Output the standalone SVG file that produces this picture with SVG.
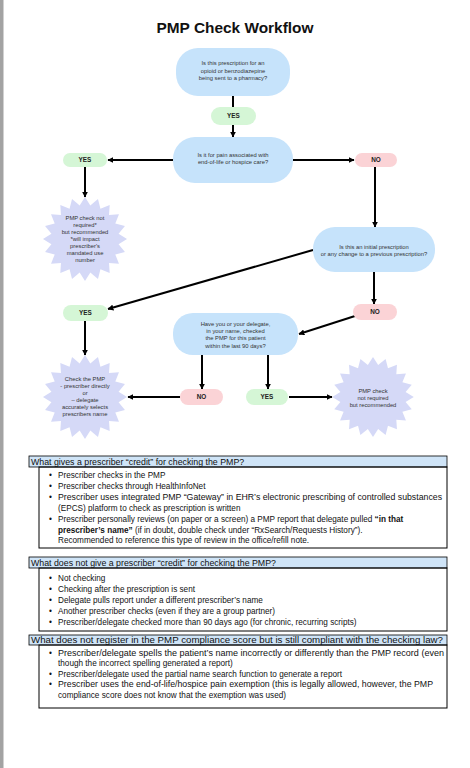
<svg xmlns="http://www.w3.org/2000/svg" width="470" height="768" viewBox="0 0 470 768">
<style>
.q{fill:#c6e3fb}
.yes{fill:#d5f6d6}
.no{fill:#fbd3d6}
.burst{fill:#d5d9f7}
.t{font-family:"Liberation Sans",Arial,sans-serif;font-size:5.8px;fill:#333;text-anchor:middle}
.p{font-family:"Liberation Sans",Arial,sans-serif;font-size:6.4px;font-weight:bold;fill:#222;text-anchor:middle}
.c line{stroke:#000;stroke-width:2;fill:none}
.hd{fill:#cfe4f7;stroke:#000;stroke-width:0.8}
.bd{fill:none;stroke:#000;stroke-width:1}
.tx{font-family:"Liberation Sans",Arial,sans-serif;font-size:8.2px;fill:#111}
.th{font-family:"Liberation Sans",Arial,sans-serif;font-size:8.8px;fill:#111}
</style>
<defs>
<marker id="ah" viewBox="0 0 10 10" refX="9" refY="5" markerWidth="6" markerHeight="6" markerUnits="userSpaceOnUse" orient="auto">
<path d="M0,0 L10,5 L0,10 z" fill="#000"/>
</marker>
<path id="star" d="M0,-42 L5.32,-33.58 L12.98,-39.94 L15.44,-30.29 L24.69,-33.98 L24.04,-24.04 L33.98,-24.69 L30.29,-15.44 L39.94,-12.98 L33.58,-5.32 L42,0 L33.58,5.32 L39.94,12.98 L30.29,15.44 L33.98,24.69 L24.04,24.04 L24.69,33.98 L15.44,30.29 L12.98,39.94 L5.32,33.58 L0,42 L-5.32,33.58 L-12.98,39.94 L-15.44,30.29 L-24.69,33.98 L-24.04,24.04 L-33.98,24.69 L-30.29,15.44 L-39.94,12.98 L-33.58,5.32 L-42,0 L-33.58,-5.32 L-39.94,-12.98 L-30.29,-15.44 L-33.98,-24.69 L-24.04,-24.04 L-24.69,-33.98 L-15.44,-30.29 L-12.98,-39.94 L-5.32,-33.58 z"/>
</defs>
<rect x="0" y="0" width="470" height="768" fill="#fff"/>
<rect x="0" y="0" width="3.5" height="768" fill="#a3a3a3"/>

<text x="235" y="33" font-family="Liberation Sans,Arial,sans-serif" font-size="15" font-weight="bold" text-anchor="middle" fill="#111" textLength="157" lengthAdjust="spacingAndGlyphs">PMP Check Workflow</text>

<g class="c">
<line x1="233" y1="96" x2="233" y2="107"/>
<line x1="233" y1="125" x2="233" y2="137" marker-end="url(#ah)"/>
<line x1="173" y1="160" x2="108" y2="160" marker-end="url(#ah)"/>
<line x1="293" y1="160" x2="354" y2="160" marker-end="url(#ah)"/>
<line x1="85" y1="167" x2="85" y2="197" marker-end="url(#ah)"/>
<line x1="375" y1="167" x2="375" y2="227" marker-end="url(#ah)"/>
<line x1="374" y1="272" x2="374" y2="304" marker-end="url(#ah)"/>
<line x1="313" y1="250" x2="108" y2="309" marker-end="url(#ah)"/>
<line x1="355" y1="316" x2="299" y2="334" marker-end="url(#ah)"/>
<line x1="85" y1="321" x2="85" y2="355" marker-end="url(#ah)"/>
<line x1="202" y1="355" x2="202" y2="389" marker-end="url(#ah)"/>
<line x1="180" y1="397" x2="128" y2="397" marker-end="url(#ah)"/>
<line x1="268" y1="355" x2="268" y2="389" marker-end="url(#ah)"/>
<line x1="289" y1="397" x2="332" y2="397" marker-end="url(#ah)"/>
</g>

<g id="q1">
<rect class="q" x="176" y="48" width="114" height="48" rx="22"/>
<text class="t" x="233" y="65">Is this prescription for an</text>
<text class="t" x="233" y="72.5">opioid or benzodiazepine</text>
<text class="t" x="233" y="80">being sent to a pharmacy?</text>
</g>
<g id="yes1">
<rect class="yes" x="211" y="107" width="45" height="18" rx="9"/>
<text class="p" x="233.5" y="118.3">YES</text>
</g>
<g id="q2">
<rect class="q" x="173" y="137" width="120" height="46" rx="22"/>
<text class="t" x="233" y="157">Is it for pain associated with</text>
<text class="t" x="233" y="164">end-of-life or hospice care?</text>
</g>
<g id="yes2">
<rect class="yes" x="63" y="153" width="44" height="14" rx="7"/>
<text class="p" x="85" y="162.3">YES</text>
</g>
<g id="no2">
<rect class="no" x="355" y="153" width="42" height="14" rx="7"/>
<text class="p" x="376" y="162.3">NO</text>
</g>
<g id="burst1">
<use href="#star" class="burst" transform="translate(85,239)"/>
<text class="t" x="85" y="220">PMP check not</text>
<text class="t" x="85" y="227">required*</text>
<text class="t" x="85" y="234">but recommended</text>
<text class="t" x="85" y="241">*will impact</text>
<text class="t" x="85" y="248">prescriber's</text>
<text class="t" x="85" y="255">mandated use</text>
<text class="t" x="85" y="262">number</text>
</g>
<g id="q3">
<rect class="q" x="313" y="227" width="122" height="45" rx="22"/>
<text class="t" x="374" y="248.5">Is this an initial prescription</text>
<text class="t" x="374" y="255.5">or any change to a previous prescription?</text>
</g>
<g id="no3">
<rect class="no" x="353" y="304" width="44" height="16" rx="8"/>
<text class="p" x="375" y="314.3">NO</text>
</g>
<g id="yes3">
<rect class="yes" x="63" y="305" width="45" height="16" rx="8"/>
<text class="p" x="85.5" y="315.3">YES</text>
</g>
<g id="q4">
<rect class="q" x="173" y="313" width="125" height="42" rx="20"/>
<text class="t" x="235.5" y="326">Have you or your delegate,</text>
<text class="t" x="235.5" y="333">in your name, checked</text>
<text class="t" x="235.5" y="340">the PMP for this patient</text>
<text class="t" x="235.5" y="347.5">within the last 90 days?</text>
</g>
<g id="burst2">
<use href="#star" class="burst" transform="translate(85,397)"/>
<text class="t" x="85" y="381">Check the PMP</text>
<text class="t" x="85" y="388">- prescriber directly</text>
<text class="t" x="85" y="395">or</text>
<text class="t" x="85" y="402">– delegate</text>
<text class="t" x="85" y="409">accurately selects</text>
<text class="t" x="85" y="416">prescribers name</text>
</g>
<g id="no4">
<rect class="no" x="180" y="389" width="43" height="16" rx="8"/>
<text class="p" x="201.5" y="399.3">NO</text>
</g>
<g id="yes4">
<rect class="yes" x="246" y="389" width="42" height="16" rx="8"/>
<text class="p" x="267" y="399.3">YES</text>
</g>
<g id="burst3">
<use href="#star" class="burst" transform="translate(373,397) scale(0.97,0.95)"/>
<text class="t" x="373" y="393">PMP check</text>
<text class="t" x="373" y="400">not required</text>
<text class="t" x="373" y="407">but recommended</text>
</g>

<g id="table1">
<rect class="hd" x="29" y="456" width="418" height="11"/>
<rect class="bd" x="39" y="467" width="408" height="81"/>
<text class="th" x="31" y="464.8">What gives a prescriber “credit” for checking the PMP?</text>
<text class="tx" x="49" y="478">•</text><text class="tx" x="58" y="478">Prescriber checks in the PMP</text>
<text class="tx" x="49" y="489">•</text><text class="tx" x="58" y="489">Prescriber checks through HealthInfoNet</text>
<text class="tx" x="49" y="500">•</text><text class="tx" x="58" y="500" textLength="384" lengthAdjust="spacingAndGlyphs">Prescriber uses integrated PMP “Gateway” in EHR’s electronic prescribing of controlled substances</text>
<text class="tx" x="58" y="510.5">(EPCS) platform to check as prescription is written</text>
<text class="tx" x="49" y="521.5">•</text><text class="tx" x="58" y="521.5">Prescriber personally reviews (on paper or a screen) a PMP report that delegate pulled <tspan font-weight="bold">“in that</tspan></text>
<text class="tx" x="58" y="532.5"><tspan font-weight="bold">prescriber’s name”</tspan> (if in doubt, double check under “RxSearch/Requests History”).</text>
<text class="tx" x="58" y="543">Recommended to reference this type of review in the office/refill note.</text>
</g>

<g id="table2">
<rect class="hd" x="29" y="557" width="418" height="11"/>
<rect class="bd" x="39" y="568" width="408" height="63"/>
<text class="th" x="31" y="565.8">What does not give a prescriber “credit” for checking the PMP?</text>
<text class="tx" x="49" y="581">•</text><text class="tx" x="58" y="581">Not checking</text>
<text class="tx" x="49" y="592">•</text><text class="tx" x="58" y="592">Checking after the prescription is sent</text>
<text class="tx" x="49" y="603">•</text><text class="tx" x="58" y="603">Delegate pulls report under a different prescriber’s name</text>
<text class="tx" x="49" y="614">•</text><text class="tx" x="58" y="614">Another prescriber checks (even if they are a group partner)</text>
<text class="tx" x="49" y="625">•</text><text class="tx" x="58" y="625">Prescriber/delegate checked more than 90 days ago (for chronic, recurring scripts)</text>
</g>

<g id="table3">
<rect class="hd" x="29" y="635" width="418" height="10"/>
<rect class="bd" x="39" y="645" width="408" height="63"/>
<text class="th" x="31" y="643" textLength="412" lengthAdjust="spacingAndGlyphs">What does not register in the PMP compliance score but is still compliant with the checking law?</text>
<text class="tx" x="49" y="655.5">•</text><text class="tx" x="58" y="655.5" textLength="386" lengthAdjust="spacingAndGlyphs">Prescriber/delegate spells the patient’s name incorrectly or differently than the PMP record (even</text>
<text class="tx" x="58" y="666">though the incorrect spelling generated a report)</text>
<text class="tx" x="49" y="676.5">•</text><text class="tx" x="58" y="676.5">Prescriber/delegate used the partial name search function to generate a report</text>
<text class="tx" x="49" y="687">•</text><text class="tx" x="58" y="687" textLength="375" lengthAdjust="spacingAndGlyphs">Prescriber uses the end-of-life/hospice pain exemption (this is legally allowed, however, the PMP</text>
<text class="tx" x="58" y="697.5">compliance score does not know that the exemption was used)</text>
</g>
</svg>
